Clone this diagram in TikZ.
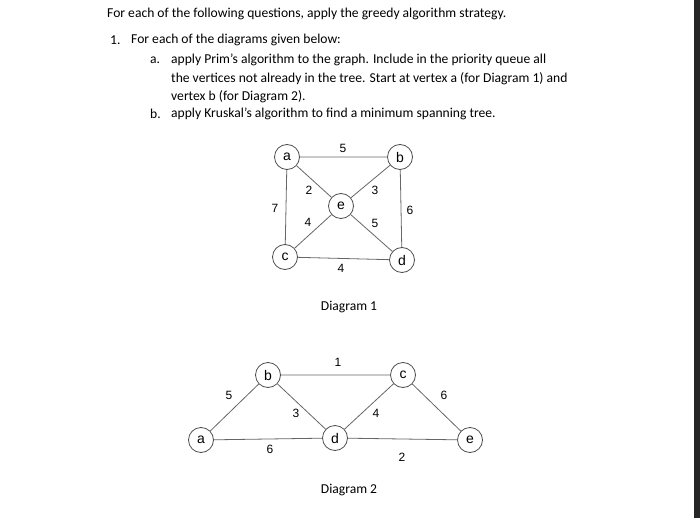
\documentclass[tikz,border=0pt]{standalone}
\usepackage{fontspec}
\setmainfont{Carlito}
\newfontfamily\arialf{Liberation Sans}
\begin{document}
\begin{tikzpicture}[x=1pt,y=-1pt,
  vtx/.style={circle,draw=black!70,line width=0.8pt,minimum size=25pt,inner sep=0pt,font=\arialf\fontsize{14}{14}\selectfont},
  edg/.style={draw=black!60,line width=0.8pt},
  wl/.style={font=\arialf\fontsize{12}{12}\selectfont},
  txt/.style={anchor=west,inner sep=0pt,font=\fontsize{13.6}{15}\selectfont}]
\useasboundingbox (0,0) rectangle (700,518);
\fill[black!85] (694,0) rectangle (700,518);
\node[txt] (t0) at (107,14) {For each of the following questions, apply the greedy algorithm strategy.};
\node[txt] (t1) at (110,40) {1.};
\node[txt] (t2) at (131,40) {For each of the diagrams given below:};
\node[txt] (t3) at (150,60) {a.};
\node[txt] (t4) at (171,60) {apply Prim’s algorithm to the graph. Include in the priority queue all};
\node[txt] (t5) at (171,79) {the vertices not already in the tree. Start at vertex a (for Diagram 1) and};
\node[txt] (t6) at (171,97) {vertex b (for Diagram 2).};
\node[txt] (t7) at (150,114) {b.};
\node[txt] (t8) at (171,114) {apply Kruskal’s algorithm to find a minimum spanning tree.};
% Diagram 1
\node[vtx] (a) at (287,157) {a};
\node[vtx] (b) at (400,157) {b};
\node[vtx] (e) at (341,206) {e};
\node[vtx] (c) at (285,257) {c};
\node[vtx] (d) at (402,260) {d};
\draw[edg] (a)--(b) (a)--(c) (a)--(e) (b)--(e) (b)--(d) (c)--(e) (e)--(d) (c)--(d);
\node[wl] (w1) at (343,148) {5};
\node[wl] (w2) at (309,190) {2};
\node[wl] (w3) at (375,190) {3};
\node[wl] (w4) at (275,208) {7};
\node[wl] (w5) at (410,210) {6};
\node[wl] (w6) at (308,222) {4};
\node[wl] (w7) at (375,223) {5};
\node[wl] (w8) at (341,268) {4};
\node[font=\fontsize{13.6}{15}\selectfont] (d1) at (349,307) {Diagram 1};
% Diagram 2
\node[vtx] (A) at (201,440) {a};
\node[vtx] (B) at (268,375) {b};
\node[vtx] (C) at (403,375) {c};
\node[vtx] (D) at (335,438) {d};
\node[vtx] (E) at (470,440) {e};
\draw[edg] (A)--(B) (B)--(C) (B)--(D) (C)--(D) (C)--(E) (A)--(D) (D)--(E);
\node[wl] (v1) at (338,362) {1};
\node[wl] (v2) at (229,395) {5};
\node[wl] (v3) at (296,413) {3};
\node[wl] (v4) at (376,413) {4};
\node[wl] (v5) at (444,395) {6};
\node[wl] (v6) at (270,449) {6};
\node[wl] (v7) at (402,457) {2};
\node[font=\fontsize{13.6}{15}\selectfont] (d2) at (349,490) {Diagram 2};
\end{tikzpicture}
\end{document}
